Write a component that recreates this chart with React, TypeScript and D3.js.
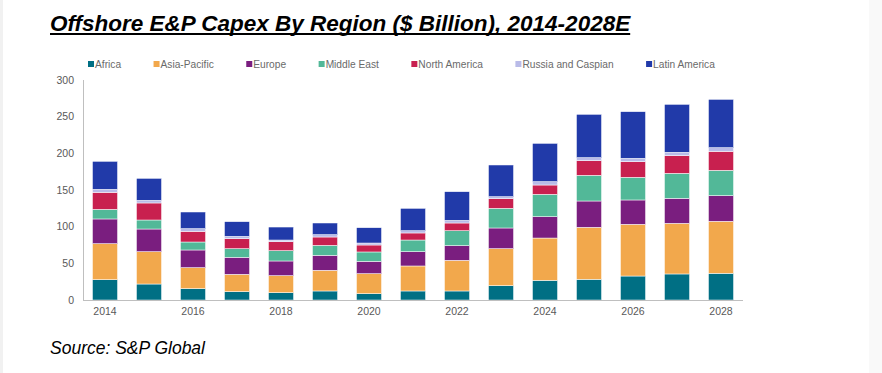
import React, { useEffect, useRef } from "react";
import * as d3 from "d3";

// values ($ billion)
const years = ["2014", "2015", "2016", "2017", "2018", "2019", "2020", "2021", "2022", "2023", "2024", "2025", "2026", "2027", "2028"];
const regions = ["Africa", "Asia-Pacific", "Europe", "Middle East", "North America", "Russia and Caspian", "Latin America"];
const colors = ["#006f84", "#f2a84c", "#7a1e7f", "#52b898", "#c8204f", "#b9bbe8", "#213aa9"];

const africa = [27.7, 21.8, 15.5, 11.4, 10.0, 12.3, 8.6, 12.3, 12.3, 19.5, 26.8, 28.2, 32.7, 35.5, 36.4];
const asiaPacific = [49.1, 44.1, 28.6, 23.6, 23.2, 28.2, 27.3, 34.1, 41.8, 50.5, 57.7, 70.9, 70.5, 69.0, 70.9];
const europe = [33.7, 30.9, 24.1, 23.2, 20.0, 20.4, 16.8, 19.5, 20.0, 28.2, 29.1, 35.9, 33.2, 34.1, 35.0];
const middleEast = [13.1, 12.3, 10.9, 11.8, 14.1, 13.6, 12.8, 15.9, 20.4, 26.8, 30.5, 35.0, 30.9, 34.1, 34.5];
const northAmerica = [23.2, 23.2, 14.5, 13.6, 12.2, 11.4, 9.5, 9.6, 10.5, 13.2, 12.7, 20.0, 21.3, 24.1, 25.9];
const russiaCaspian = [4.1, 3.6, 3.7, 3.2, 2.3, 3.2, 2.7, 3.1, 3.6, 2.7, 4.6, 4.1, 4.6, 4.6, 5.0];
const latinAmerica = [38.2, 30.0, 22.7, 20.0, 17.7, 15.9, 20.9, 30.5, 39.1, 43.2, 52.2, 59.1, 63.6, 65.4, 65.9];

const yTicks = [0, 50, 100, 150, 200, 250, 300];
const xLabels = ["2014", "2016", "2018", "2020", "2022", "2024", "2026", "2028"];

const series = [africa, asiaPacific, europe, middleEast, northAmerica, russiaCaspian, latinAmerica];

export default function App() {
  const ref = useRef<SVGSVGElement>(null);

  useEffect(() => {
    const width = 882;
    const height = 373;
    const svg = d3.select(ref.current);
    svg.selectAll("*").remove();

    svg.append("rect").attr("width", width).attr("height", height).attr("fill", "#fff");
    // faint frame strips at the edges of the screenshot
    svg.append("rect").attr("x", 0).attr("width", 3).attr("height", height).attr("fill", "#f1f1f1");
    svg.append("rect").attr("x", 869).attr("width", 13).attr("height", height).attr("fill", "#f9f9f9");

    const table = years.map((yr, i) => {
      const row: any = { year: yr };
      regions.forEach((r, k) => (row[r] = series[k][i]));
      return row;
    });

    const x = d3.scaleBand().domain(years).range([83, 743]).paddingInner(0.43).paddingOuter(0.215);
    const y = d3.scaleLinear().domain([0, 300]).range([300, 80]);
    const color = d3.scaleOrdinal<string, string>().domain(regions).range(colors);

    const stacked = d3.stack().keys(regions)(table);

    // title
    const title = svg
      .append("text")
      .attr("x", 50)
      .attr("y", 31)
      .attr("font-family", "Liberation Sans, Arial, sans-serif")
      .attr("font-size", 22.5)
      .attr("font-weight", "bold")
      .attr("font-style", "italic")
      .attr("fill", "#000")
      .text("Offshore E&P Capex By Region ($ Billion), 2014-2028E");
    const tw = (title.node() as SVGTextElement).getComputedTextLength();
    svg.append("rect").attr("x", 50).attr("y", 33).attr("width", tw).attr("height", 2).attr("fill", "#000");

    // legend
    let lx = 88;
    regions.forEach((r) => {
      svg.append("rect").attr("x", lx).attr("y", 61).attr("width", 6).attr("height", 6).attr("fill", color(r));
      const t = svg
        .append("text")
        .attr("x", lx + 7)
        .attr("y", 67.5)
        .attr("font-family", "Liberation Sans, Arial, sans-serif")
        .attr("font-size", 10.2)
        .attr("fill", "#6a6a6a")
        .text(r);
      lx += 7 + (t.node() as SVGTextElement).getComputedTextLength() + 32.5;
    });

    // bars
    svg
      .append("g")
      .selectAll("g")
      .data(stacked)
      .join("g")
      .attr("fill", (d) => color(d.key))
      .selectAll("rect")
      .data((d) => d)
      .join("rect")
      .attr("x", (d: any) => x(d.data.year)!)
      .attr("width", x.bandwidth())
      .attr("y", (d) => y(d[1]))
      .attr("height", (d) => y(d[0]) - y(d[1]))
      .attr("stroke", "#fff")
      .attr("stroke-width", 0.5);

    // axes
    const axisColor = "#bfbfbf";
    svg.append("line").attr("x1", 83.5).attr("x2", 83.5).attr("y1", 80).attr("y2", 300).attr("stroke", axisColor);
    svg.append("line").attr("x1", 83).attr("x2", 743).attr("y1", 300.5).attr("y2", 300.5).attr("stroke", axisColor);

    svg
      .append("g")
      .selectAll("text")
      .data(yTicks)
      .join("text")
      .attr("x", 74)
      .attr("y", (d) => y(d) + 3.8)
      .attr("text-anchor", "end")
      .attr("font-family", "Liberation Sans, Arial, sans-serif")
      .attr("font-size", 10.5)
      .attr("fill", "#595959")
      .text((d) => d);

    svg
      .append("g")
      .selectAll("text")
      .data(xLabels)
      .join("text")
      .attr("x", (d) => x(d)! + x.bandwidth() / 2)
      .attr("y", 315)
      .attr("text-anchor", "middle")
      .attr("font-family", "Liberation Sans, Arial, sans-serif")
      .attr("font-size", 10.5)
      .attr("fill", "#595959")
      .text((d) => d);

    // source
    svg
      .append("text")
      .attr("x", 50)
      .attr("y", 354)
      .attr("font-family", "Liberation Sans, Arial, sans-serif")
      .attr("font-size", 17.5)
      .attr("font-style", "italic")
      .attr("fill", "#000")
      .text("Source: S&P Global");
  }, []);

  return <svg ref={ref} width={882} height={373} style={{ position: "absolute", left: 0, top: 0 }} />;
}
